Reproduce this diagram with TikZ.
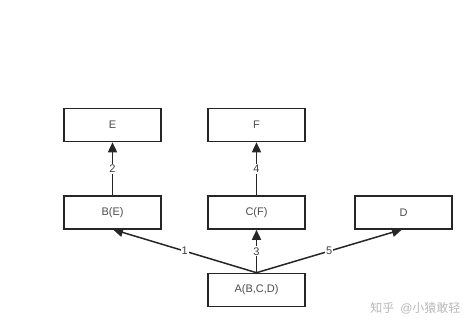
\documentclass[tikz,border=0pt]{standalone}
\usepackage{fontspec}
\setmainfont{Liberation Sans}
\newfontfamily\cjk{Noto Sans CJK SC}
\usetikzlibrary{arrows.meta}
\begin{document}
\begin{tikzpicture}[x=1pt,y=-1pt,
  box/.style={draw=black!85, line width=1.6pt, minimum width=97pt, minimum height=33pt, inner sep=0pt, font=\fontsize{11}{13}\selectfont, text=black!70},
  conn/.style={draw=black!85, line width=1.5pt, -{Triangle[length=10pt,width=9pt]}},
  lbl/.style={fill=white, inner sep=1pt, font=\fontsize{11}{13}\selectfont, text=black!75}]
\useasboundingbox (0,0) rectangle (474,329);
\node[box] (E) at (112.5,125) {E};
\node[box] (F) at (256.5,125) {F};
\node[box] (B) at (112.5,212.5) {B(E)};
\node[box] (C) at (256.5,212.5) {C(F)};
\node[box] (D) at (403.5,212.5) {D};
\node[box] (A) at (256.5,290) {A(B,C,D)};
\coordinate (Bt) at (113,229.5);
\coordinate (Dt) at (402,229.5);
\draw[conn] (B.north) -- node[lbl] {2} (E.south);
\draw[conn] (C.north) -- node[lbl] {4} (F.south);
\draw[conn] (A.north) -- node[lbl,pos=0.5] {3} (C.south);
\draw[conn] (A.north) -- node[lbl,pos=0.5] {1} (Bt);
\draw[conn] (A.north) -- node[lbl,pos=0.5] {5} (Dt);
\node[text=black!28, font=\fontsize{12}{14}\selectfont, anchor=east] (wm) at (464,308) {{\cjk 知乎}\hspace{6pt}@{\cjk 小猿敢轻}};
\end{tikzpicture}
\end{document}
